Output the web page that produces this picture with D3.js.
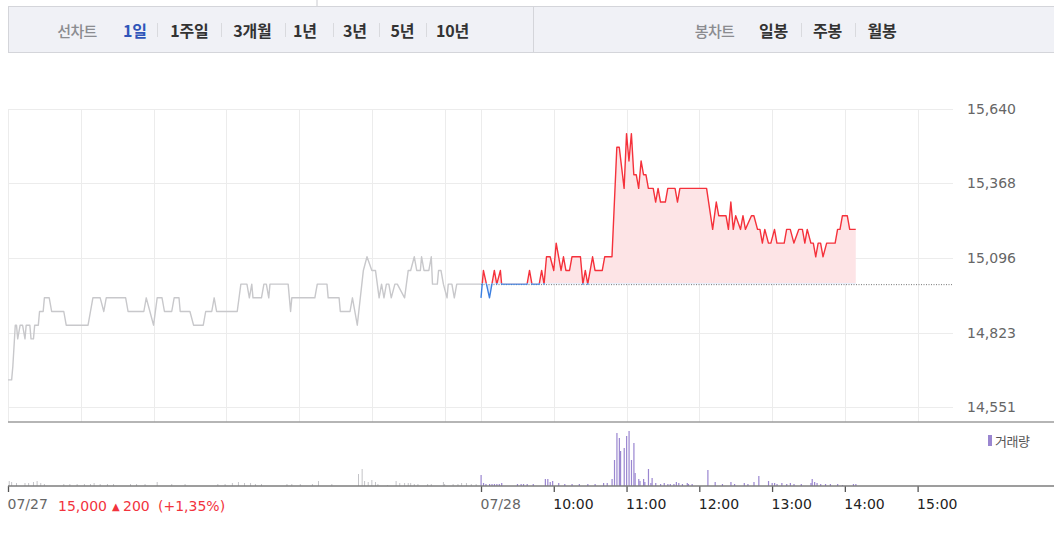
<!DOCTYPE html>
<html><head><meta charset="utf-8">
<script src="https://cdn.jsdelivr.net/npm/d3@7"></script>
<style>body{margin:0;background:#fff;} svg{display:block;}</style>
</head><body>
<svg id="c" width="1054" height="535"></svg>
<script>
// ---------- data ----------
const periodLabel = "선차트";
const periodTabs = ["1일", "1주일", "3개월", "1년", "3년", "5년", "10년"];
const candleLabel = "봉차트";
const candleTabs = ["일봉", "주봉", "월봉"];
const dayLabels = ["07/27", "07/28"];
const hourLabels = ["10:00", "11:00", "12:00", "13:00", "14:00", "15:00"];
const yTicks = [14551, 14823, 15096, 15368, 15640];
const prevClose = 15000;
const summaryClose = "15,000";
const summaryChange = "200";
const summaryPct = "(+1,35%)";
const volumeLegend = "거래량";
const sessionMinutes = 390;

// [minute since 09:00, price] — 07/27
const prevSeries = [[0,14650],[3,14650],[4,14700],[6,14850],[7,14850],[8,14800],[10,14850],[12,14850],[14,14800],[15,14850],[18,14850],[19,14800],[21,14800],[22,14850],[25,14850],[26,14900],[29,14900],[30,14950],[34,14950],[36,14900],[46,14900],[48,14850],[66,14850],[70,14950],[76,14950],[79,14900],[81,14950],[97,14950],[99,14900],[112,14900],[114,14950],[117,14900],[120,14850],[123,14950],[127,14950],[129,14900],[135,14900],[137,14950],[141,14950],[142,14900],[150,14900],[153,14850],[161,14850],[163,14900],[168,14900],[170,14950],[172,14900],[189,14900],[192,15000],[197,15000],[199,14950],[201,15000],[202,14950],[209,14950],[211,15000],[213,15000],[215,14950],[216,15000],[231,15000],[233,14900],[234,14950],[253,14950],[255,15000],[263,15000],[264,14950],[273,14950],[274,14900],[282,14900],[284,14950],[288,14850],[293,15050],[296,15100],[300,15050],[303,15050],[306,14950],[308,15000],[310,14950],[312,15000],[314,15000],[316,14950],[319,15000],[321,15000],[327,14950],[330,15050],[332,15050],[335,15100],[337,15050],[340,15050],[341,15100],[343,15050],[347,15050],[349,15100],[350,15000],[354,15000],[355,15050],[357,15050],[359,15000],[362,14950],[363,15000],[366,15000],[368,14950],[370,15000],[390,15000]];

// [minute since 09:00, price] — 07/28
const todaySeries = [[0,14950],[2,15050],[7,14950],[9,15000],[11,15050],[13,15000],[16,15050],[17,15000],[38,15000],[40,15050],[42,15000],[48,15000],[50,15050],[52,15000],[54,15100],[57,15100],[60,15050],[62,15150],[66,15050],[68,15100],[70,15050],[73,15050],[75,15100],[82,15100],[84,15000],[86,15050],[88,15000],[92,15100],[94,15050],[100,15050],[102,15100],[108,15100],[112,15500],[114,15500],[118,15350],[120,15550],[122,15450],[124,15550],[126,15400],[128,15400],[130,15350],[132,15450],[134,15400],[136,15400],[138,15350],[142,15350],[144,15300],[146,15350],[148,15300],[152,15300],[154,15350],[160,15350],[162,15300],[164,15350],[186,15350],[191,15200],[194,15300],[196,15250],[202,15250],[204,15200],[206,15300],[208,15200],[210,15250],[214,15200],[216,15250],[218,15200],[223,15250],[225,15250],[228,15200],[230,15200],[232,15150],[234,15200],[237,15150],[239,15150],[242,15200],[244,15150],[250,15150],[252,15200],[255,15200],[258,15150],[262,15200],[265,15200],[267,15150],[269,15200],[272,15150],[274,15150],[276,15100],[278,15150],[280,15150],[282,15100],[285,15150],[292,15150],[294,15200],[296,15200],[298,15250],[302,15250],[304,15200],[309,15200]];

// [minute, volume (thousand shares)]
const prevVolume = [[1,5],[3,4],[7,3],[14,3],[17,3],[21,4],[24,5],[27,3],[30,2],[46,2],[51,2],[57,2],[63,2],[68,2],[71,3],[76,2],[82,2],[87,2],[101,2],[106,2],[113,2],[123,4],[135,2],[146,2],[173,2],[179,2],[185,3],[190,4],[195,3],[200,3],[204,2],[209,2],[230,2],[234,2],[241,2],[251,2],[256,5],[267,2],[289,12],[292,17],[294,5],[297,4],[300,6],[303,4],[305,2],[313,1],[320,5],[323,3],[327,3],[330,3],[332,3],[335,2],[338,2],[346,2],[349,2],[359,4],[360,2],[367,2],[371,2],[374,3],[378,3],[382,2],[386,2]];
const todayVolume = [[0,11],[2,3],[4,2],[7,2],[9,2],[11,2],[13,2],[15,2],[17,3],[30,2],[33,2],[35,2],[38,2],[43,2],[53,7],[55,7],[57,4],[59,5],[64,3],[69,2],[75,2],[81,2],[88,2],[94,2],[101,3],[104,3],[108,7],[110,26],[112,53],[114,48],[115,35],[118,38],[120,50],[122,55],[124,26],[126,43],[127,13],[130,7],[131,5],[134,7],[135,4],[138,17],[140,3],[141,8],[144,3],[148,2],[151,3],[154,2],[156,2],[159,2],[161,4],[163,3],[166,2],[170,3],[171,2],[174,2],[187,16],[193,4],[199,2],[206,4],[209,2],[217,3],[220,2],[225,4],[229,10],[237,5],[240,3],[242,3],[244,2],[248,3],[252,2],[255,3],[258,2],[264,2],[272,3],[273,7],[275,4],[277,3],[280,2],[284,2],[288,2],[294,2],[298,1],[307,2],[309,2]];

// ---------- layout ----------
const svg = d3.select("#c");
const FONT = "'DejaVu Sans', sans-serif";
const KFONT = "'Noto Sans CJK KR', 'Noto Sans', sans-serif";
const plotL = 8, plotR = 954, priceTop = 109, priceBottom = 422, volTop = 424, volBottom = 486;

const x = d3.scaleLinear().domain([0, sessionMinutes * 2]).range([plotL, plotR]);
const y = d3.scaleLinear().domain([14551, 15640]).range([407, 109]);
const yv = d3.scaleLinear().domain([0, 62]).range([volBottom, volTop]);

// ---------- top tab bar ----------
svg.append("line").attr("x1", 317).attr("x2", 317).attr("y1", 0).attr("y2", 6).attr("stroke", "#c9cacf");
svg.append("rect").attr("x", 8.5).attr("y", 6.5).attr("width", 1060).attr("height", 46)
  .attr("fill", "#f0f1f6").attr("stroke", "#d4d5da");
svg.append("line").attr("x1", 533.5).attr("x2", 533.5).attr("y1", 7).attr("y2", 52).attr("stroke", "#d4d5da");

const tabCenters = [135, 189.5, 252.5, 305, 355, 402.5, 452.5];
const tabSeps = [157, 221, 285, 333, 379, 426];
const cTabCenters = [773.5, 827.5, 882];
const cTabSeps = [801, 855];
const tabG = svg.append("g").attr("font-family", KFONT);
tabG.append("text").attr("x", 77).attr("y", 30).attr("text-anchor", "middle").attr("dominant-baseline", "central")
  .attr("font-size", 15).attr("letter-spacing", "-0.6px")
  .attr("fill", "#8b8c90").attr("font-weight", 500).text(periodLabel);
tabG.selectAll("text.p").data(periodTabs).join("text").attr("class", "p")
  .attr("x", (d, i) => tabCenters[i]).attr("y", 30).attr("text-anchor", "middle").attr("dominant-baseline", "central")
  .attr("font-size", 16).attr("letter-spacing", "-0.2px")
  .attr("font-weight", 700).attr("fill", (d, i) => i === 0 ? "#2f55b9" : "#333")
  .text(d => d);
tabG.append("text").attr("x", 714.5).attr("y", 30).attr("text-anchor", "middle").attr("dominant-baseline", "central")
  .attr("font-size", 15).attr("letter-spacing", "-0.6px")
  .attr("fill", "#8b8c90").attr("font-weight", 500).text(candleLabel);
tabG.selectAll("text.c").data(candleTabs).join("text").attr("class", "c")
  .attr("x", (d, i) => cTabCenters[i]).attr("y", 30).attr("text-anchor", "middle").attr("dominant-baseline", "central")
  .attr("font-size", 16).attr("letter-spacing", "-0.2px")
  .attr("font-weight", 700).attr("fill", "#333").text(d => d);
svg.selectAll("line.sep").data(tabSeps.concat(cTabSeps)).join("line").attr("class", "sep")
  .attr("x1", d => d + 0.5).attr("x2", d => d + 0.5).attr("y1", 23).attr("y2", 37).attr("stroke", "#d9dade");

// ---------- grid ----------
const gridHours = [];
for (let d = 0; d < 2; d++) for (let h = 0; h <= 6; h++) gridHours.push(d * sessionMinutes + h * 60);
svg.append("g").selectAll("line").data(gridHours).join("line")
  .attr("x1", d => Math.round(x(d)) + 0.5).attr("x2", d => Math.round(x(d)) + 0.5)
  .attr("y1", priceTop).attr("y2", priceBottom).attr("stroke", "#ececec");
svg.append("g").selectAll("line").data(yTicks).join("line")
  .attr("x1", plotL).attr("x2", 953).attr("y1", d => Math.round(y(d)) + 0.5).attr("y2", d => Math.round(y(d)) + 0.5)
  .attr("stroke", "#ececec");

// y-axis labels
const yAxis = d3.axisRight(y).tickValues(yTicks).tickSize(0).tickPadding(0).tickFormat(d3.format(","));
const yg = svg.append("g").attr("transform", "translate(967,0)").call(yAxis);
yg.select(".domain").remove();
yg.selectAll("text").attr("font-family", FONT).attr("font-size", 14).attr("fill", "#666");

// ---------- price lines ----------
const X = (d, day) => x(day * sessionMinutes + d[0]);
const y0 = y(prevClose);

const prevLine = d3.line().x(d => X(d, 0)).y(d => y(d[1]));
svg.append("path").datum(prevSeries).attr("d", prevLine).attr("fill", "none")
  .attr("stroke", "#c8c8cb").attr("stroke-width", 1.4).attr("stroke-linejoin", "round");

const defs = svg.append("defs");
defs.append("clipPath").attr("id", "above").append("rect")
  .attr("x", 0).attr("y", 0).attr("width", 1054).attr("height", y0 - 0.8);
defs.append("clipPath").attr("id", "below").append("rect")
  .attr("x", 0).attr("y", y0 - 0.8).attr("width", 1054).attr("height", 300);

const area = d3.area().x(d => X(d, 1)).y0(y0).y1(d => y(d[1]));
svg.append("path").datum(todaySeries).attr("d", area).attr("fill", "#fde4e6").attr("clip-path", "url(#above)");
svg.append("path").datum(todaySeries).attr("d", area).attr("fill", "#e3ecfb").attr("clip-path", "url(#below)");

svg.append("line").attr("x1", x(sessionMinutes)).attr("x2", 953).attr("y1", y0 + 0.5).attr("y2", y0 + 0.5)
  .attr("stroke", "#777").attr("stroke-dasharray", "1,1.5");

const todayLine = d3.line().x(d => X(d, 1)).y(d => y(d[1]));
svg.append("path").datum(todaySeries).attr("d", todayLine).attr("fill", "none")
  .attr("stroke", "#f5313b").attr("stroke-width", 1.4).attr("stroke-linejoin", "round").attr("clip-path", "url(#above)");
svg.append("path").datum(todaySeries).attr("d", todayLine).attr("fill", "none")
  .attr("stroke", "#3b7fe0").attr("stroke-width", 1.4).attr("stroke-linejoin", "round").attr("clip-path", "url(#below)");

// frame line between panels
svg.append("line").attr("x1", plotL).attr("x2", 1054).attr("y1", 422).attr("y2", 422)
  .attr("stroke", "#9c9c9c").attr("stroke-width", 1.6);

// ---------- volume ----------
svg.append("g").selectAll("rect").data(prevVolume).join("rect")
  .attr("x", d => X(d, 0) - 0.5).attr("width", 1)
  .attr("y", d => yv(d[1])).attr("height", d => volBottom - yv(d[1])).attr("fill", "#c4c4c8");
svg.append("g").selectAll("rect").data(todayVolume).join("rect")
  .attr("x", d => X(d, 1) - 0.5).attr("width", 1.2)
  .attr("y", d => yv(d[1])).attr("height", d => volBottom - yv(d[1])).attr("fill", "#9a86d0");

svg.append("rect").attr("x", 988).attr("y", 435).attr("width", 4).attr("height", 11).attr("fill", "#9a86d0");
svg.append("text").attr("x", 995).attr("y", 446).attr("font-family", KFONT).attr("font-size", 13)
  .attr("fill", "#555").attr("letter-spacing", "-0.5px").text(volumeLegend);

// ---------- time axis ----------
const tickVals = [0, sessionMinutes].concat(hourLabels.map((h, i) => sessionMinutes + (i + 1) * 60));
const tickText = dayLabels.concat(hourLabels);
const xAxis = d3.axisBottom(x).tickValues(tickVals).tickSize(6).tickPadding(7)
  .tickFormat((d, i) => tickText[i]);
const xg = svg.append("g").attr("transform", `translate(0,${volBottom})`).call(xAxis);
xg.select(".domain").remove();
xg.selectAll(".tick line").attr("stroke", "#555").attr("stroke-width", 1.3);
xg.selectAll("text").attr("font-family", FONT).attr("font-size", 14).attr("text-anchor", "start")
  .attr("dx", -1).attr("fill", (d, i) => i < 2 ? "#666" : "#222");
svg.append("line").attr("x1", plotL).attr("x2", 1054).attr("y1", volBottom).attr("y2", volBottom)
  .attr("stroke", "#7c7c7c").attr("stroke-width", 1.5);

// summary (previous close)
const sumG = svg.append("g").attr("font-family", FONT).attr("fill", "#f2333d");
sumG.append("text").attr("x", 58).attr("y", 511).attr("font-size", 14).text(summaryClose);
sumG.append("text").attr("x", 112).attr("y", 510).attr("font-size", 10).text("▲");
sumG.append("text").attr("x", 123).attr("y", 511).attr("font-size", 14).text(summaryChange);
sumG.append("text").attr("x", 158).attr("y", 511).attr("font-size", 14).text(summaryPct);
</script>
</body></html>
